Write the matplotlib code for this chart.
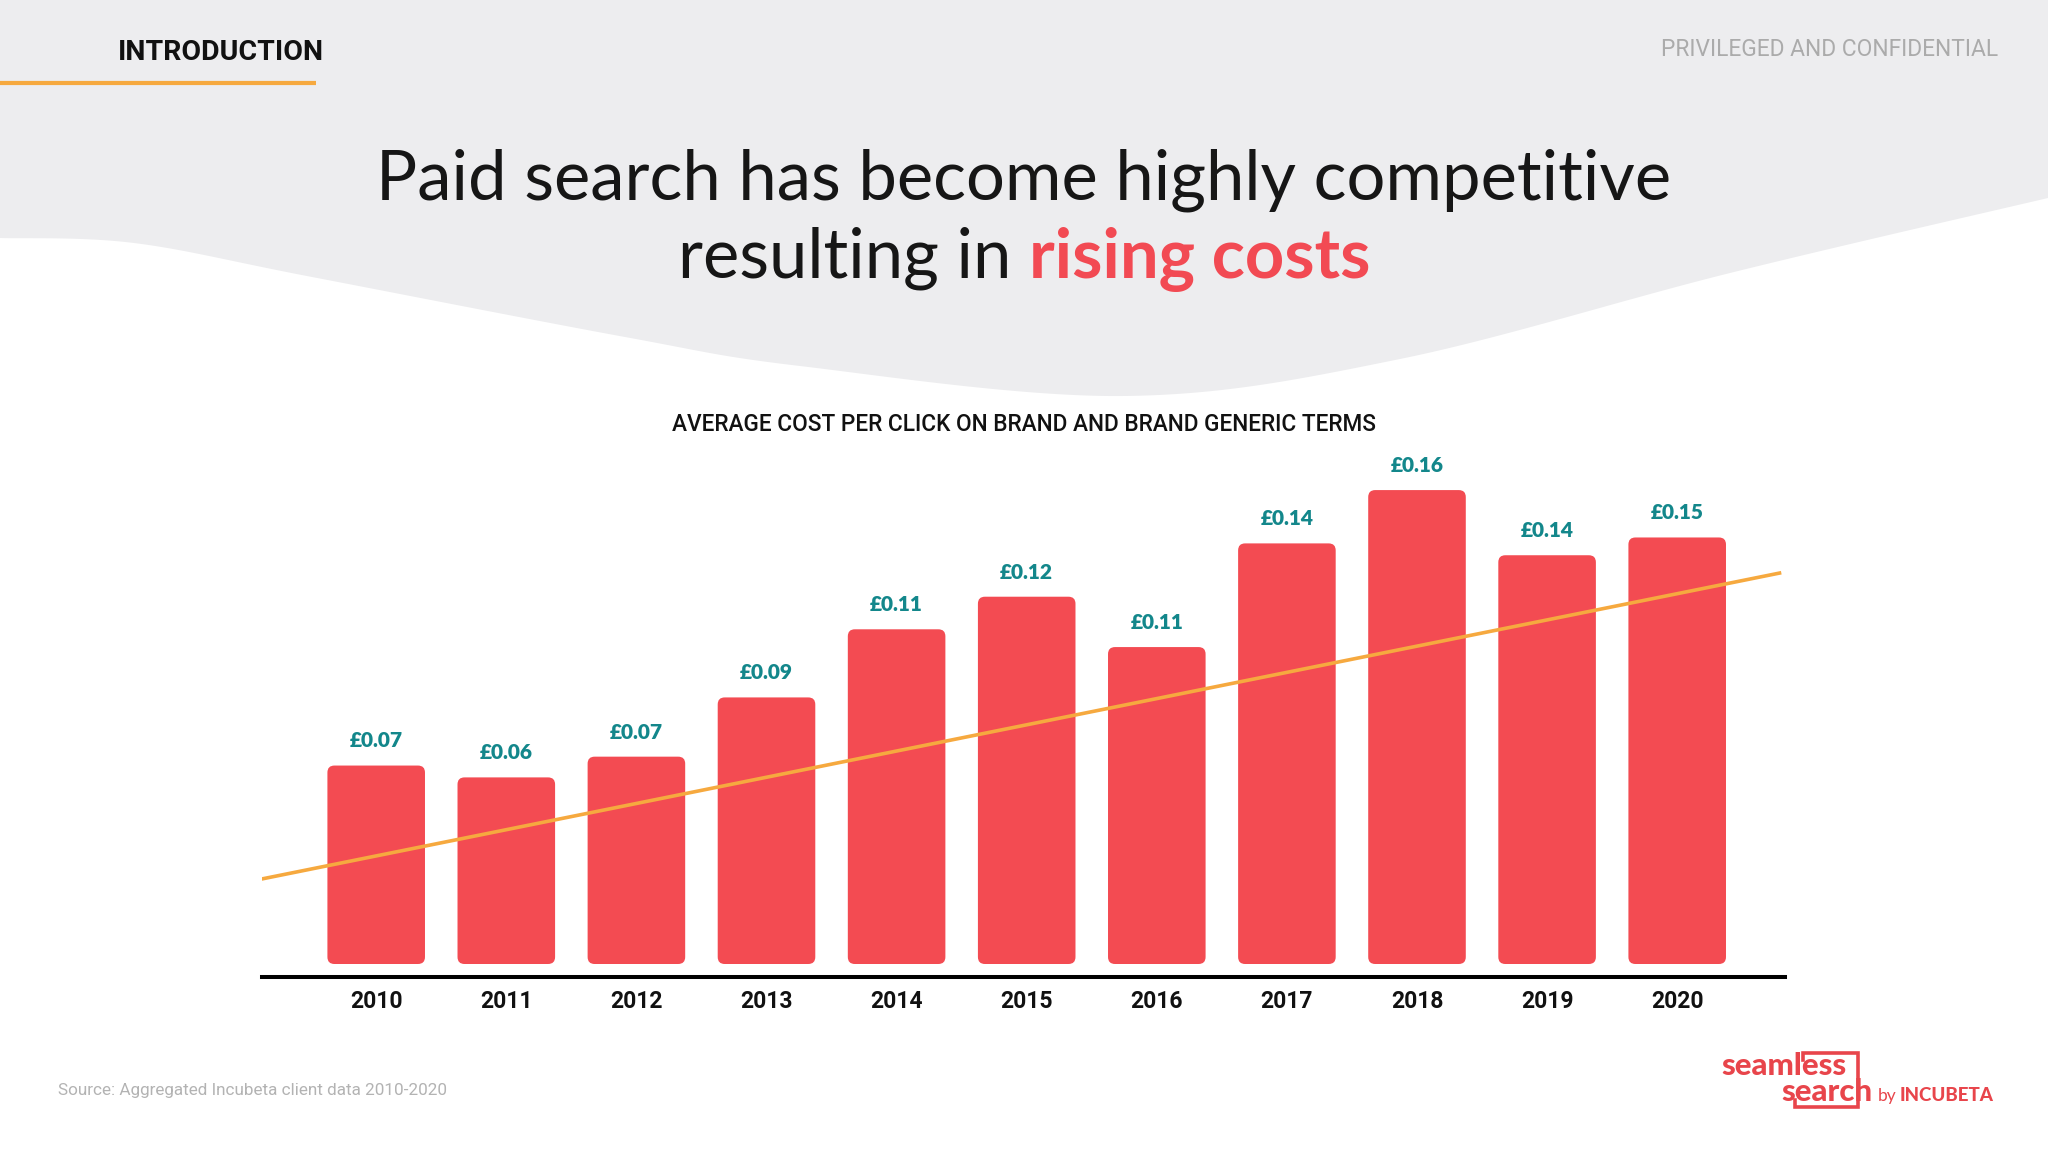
import numpy as np
import matplotlib.pyplot as plt
from matplotlib.patches import FancyBboxPatch, Polygon

# ── data ────────────────────────────────────────────────────────────
years = ["2010", "2011", "2012", "2013", "2014", "2015",
         "2016", "2017", "2018", "2019", "2020"]
cpc = [0.067, 0.063, 0.070, 0.090, 0.113, 0.124,
       0.107, 0.142, 0.160, 0.138, 0.144]
cpc_labels = ["£0.07", "£0.06", "£0.07", "£0.09", "£0.11", "£0.12",
              "£0.11", "£0.14", "£0.16", "£0.14", "£0.15"]
trend_x = [-0.88, 10.80]
trend_y = [0.0287, 0.1321]

# ── style ───────────────────────────────────────────────────────────
W, H = 2048, 1152
BAR = "#f34b52"
TEAL = "#13878b"
ORANGE = "#f6a93f"
GREY_BG = "#ededef"

fig = plt.figure(figsize=(W / 100, H / 100), dpi=100)
fig.patch.set_facecolor("white")

# background layer in pixel coords
bg = fig.add_axes([0, 0, 1, 1])
bg.set_xlim(0, W)
bg.set_ylim(H, 0)
bg.axis("off")


def catmull(pts, n=40):
    p = np.array(pts, float)
    p = np.vstack([p[0], p, p[-1]])
    out = []
    t = np.linspace(0, 1, n, endpoint=False)[:, None]
    for i in range(1, len(p) - 2):
        p0, p1, p2, p3 = p[i - 1], p[i], p[i + 1], p[i + 2]
        out.append(0.5 * (2 * p1 + (-p0 + p2) * t
                          + (2 * p0 - 5 * p1 + 4 * p2 - p3) * t ** 2
                          + (-p0 + 3 * p1 - 3 * p2 + p3) * t ** 3))
    out.append(p[-2][None])
    return np.vstack(out)


wave = catmull([(0, 238), (134, 243), (312, 277), (625, 337), (800, 366),
                (1124, 396), (1400, 359), (1730, 273), (2048, 198)])
poly = np.vstack([wave, [(W, 0), (0, 0)]])
bg.add_patch(Polygon(poly, closed=True, facecolor=GREY_BG, edgecolor="none"))

# header
bg.text(118, 60, "INTRODUCTION", family="Roboto", weight="bold",
        fontsize=20.5, color="#111111", va="baseline", ha="left")
bg.plot([0, 316], [83, 83], color=ORANGE, lw=3, solid_capstyle="butt")
bg.text(1998, 56, "PRIVILEGED AND CONFIDENTIAL", family="Roboto",
        fontsize=16.4, color="#ababab", va="baseline", ha="right")

# title
TITLE_FS = 49.5
bg.text(1024, 199, "Paid search has become highly competitive", family="Lato",
        fontsize=TITLE_FS, color="#161616", ha="center", va="baseline")
r = fig.canvas.get_renderer()
t1 = bg.text(0, 278, "resulting in ", family="Lato", fontsize=TITLE_FS,
             color="#161616", ha="left", va="baseline")
t2 = bg.text(0, 278, "rising costs", family="Lato", weight="bold",
             fontsize=TITLE_FS, color="#f24a53", ha="left", va="baseline")
w1 = t1.get_window_extent(r).width
w2 = t2.get_window_extent(r).width
x0 = 1024 - (w1 + w2) / 2
t1.set_x(x0)
t2.set_x(x0 + w1)

bg.text(1024, 431, "AVERAGE COST PER CLICK ON BRAND AND BRAND GENERIC TERMS",
        family="Roboto", weight="medium", fontsize=16.3, color="#111111",
        ha="center", va="baseline")

# source + logo
bg.text(58, 1095, "Source: Aggregated Incubeta client data 2010-2020",
        family="Roboto", fontsize=12.3, color="#b3b3b3", va="baseline")
LOGO = "#e8454b"
bg.text(1847, 1075, "seamless", family="Lato", weight="black", fontsize=22.5,
        color=LOGO, ha="right", va="baseline")
bg.text(1872, 1101, "search", family="Lato", weight="black", fontsize=22.5,
        color=LOGO, ha="right", va="baseline")
bg.plot([1803, 1803, 1858, 1858, 1795, 1795],
        [1060, 1053, 1053, 1107, 1107, 1100], color=LOGO, lw=2.6,
        solid_joinstyle="miter")
bg.text(1878, 1101, "by", family="Lato", fontsize=12.5, color=LOGO,
        va="baseline")
bg.text(1900, 1101, "INCUBETA", family="Lato", weight="black", fontsize=13.5,
        color=LOGO, va="baseline")

# ── chart ───────────────────────────────────────────────────────────
left_px, right_px, bot_px, top_px = 262, 1785, 977, 420
ax = fig.add_axes([left_px / W, 1 - bot_px / H,
                   (right_px - left_px) / W, (bot_px - top_px) / H])
ax.patch.set_alpha(0)
x = np.arange(len(years))
ax.set_xlim((left_px - 376.2) / 130.1, (right_px - 376.2) / 130.1)
ax.set_ylim(-13 / 2962, (964 - top_px) / 2962)

# pixel size of a data unit, for undistorted round corners
p0 = ax.transData.transform((0, 0))
p1 = ax.transData.transform((1, 1))
px_x, px_y = p1[0] - p0[0], p1[1] - p0[1]
aspect = px_x / px_y
radius = 7 / px_x

bars = ax.bar(x, cpc, width=0.75, color=BAR)
for b in bars:
    b.set_visible(False)
    ax.add_patch(FancyBboxPatch(
        (b.get_x(), b.get_y()), b.get_width(), b.get_height(),
        boxstyle=f"round,pad=0,rounding_size={radius}",
        mutation_aspect=aspect, facecolor=BAR, edgecolor="none", zorder=2))

for xi, v, lbl in zip(x, cpc, cpc_labels):
    ax.annotate(lbl, (xi, v), xytext=(0, 13), textcoords="offset points",
                ha="center", va="baseline", family="Lato", weight="heavy",
                fontsize=15, color=TEAL)

ax.plot(trend_x, trend_y, color=ORANGE, lw=2.6, zorder=3,
        solid_capstyle="butt")

for s in ["top", "left", "right"]:
    ax.spines[s].set_visible(False)
ax.spines["bottom"].set_linewidth(2.9)
ax.spines["bottom"].set_color("#000000")
ax.set_yticks([])
ax.set_xticks(x)
ax.set_xticklabels(years, family="Roboto", weight="bold", fontsize=16.5,
                   color="#111111")
ax.tick_params(axis="x", length=0, pad=9.5)

plt.savefig("out.png", dpi=100)
